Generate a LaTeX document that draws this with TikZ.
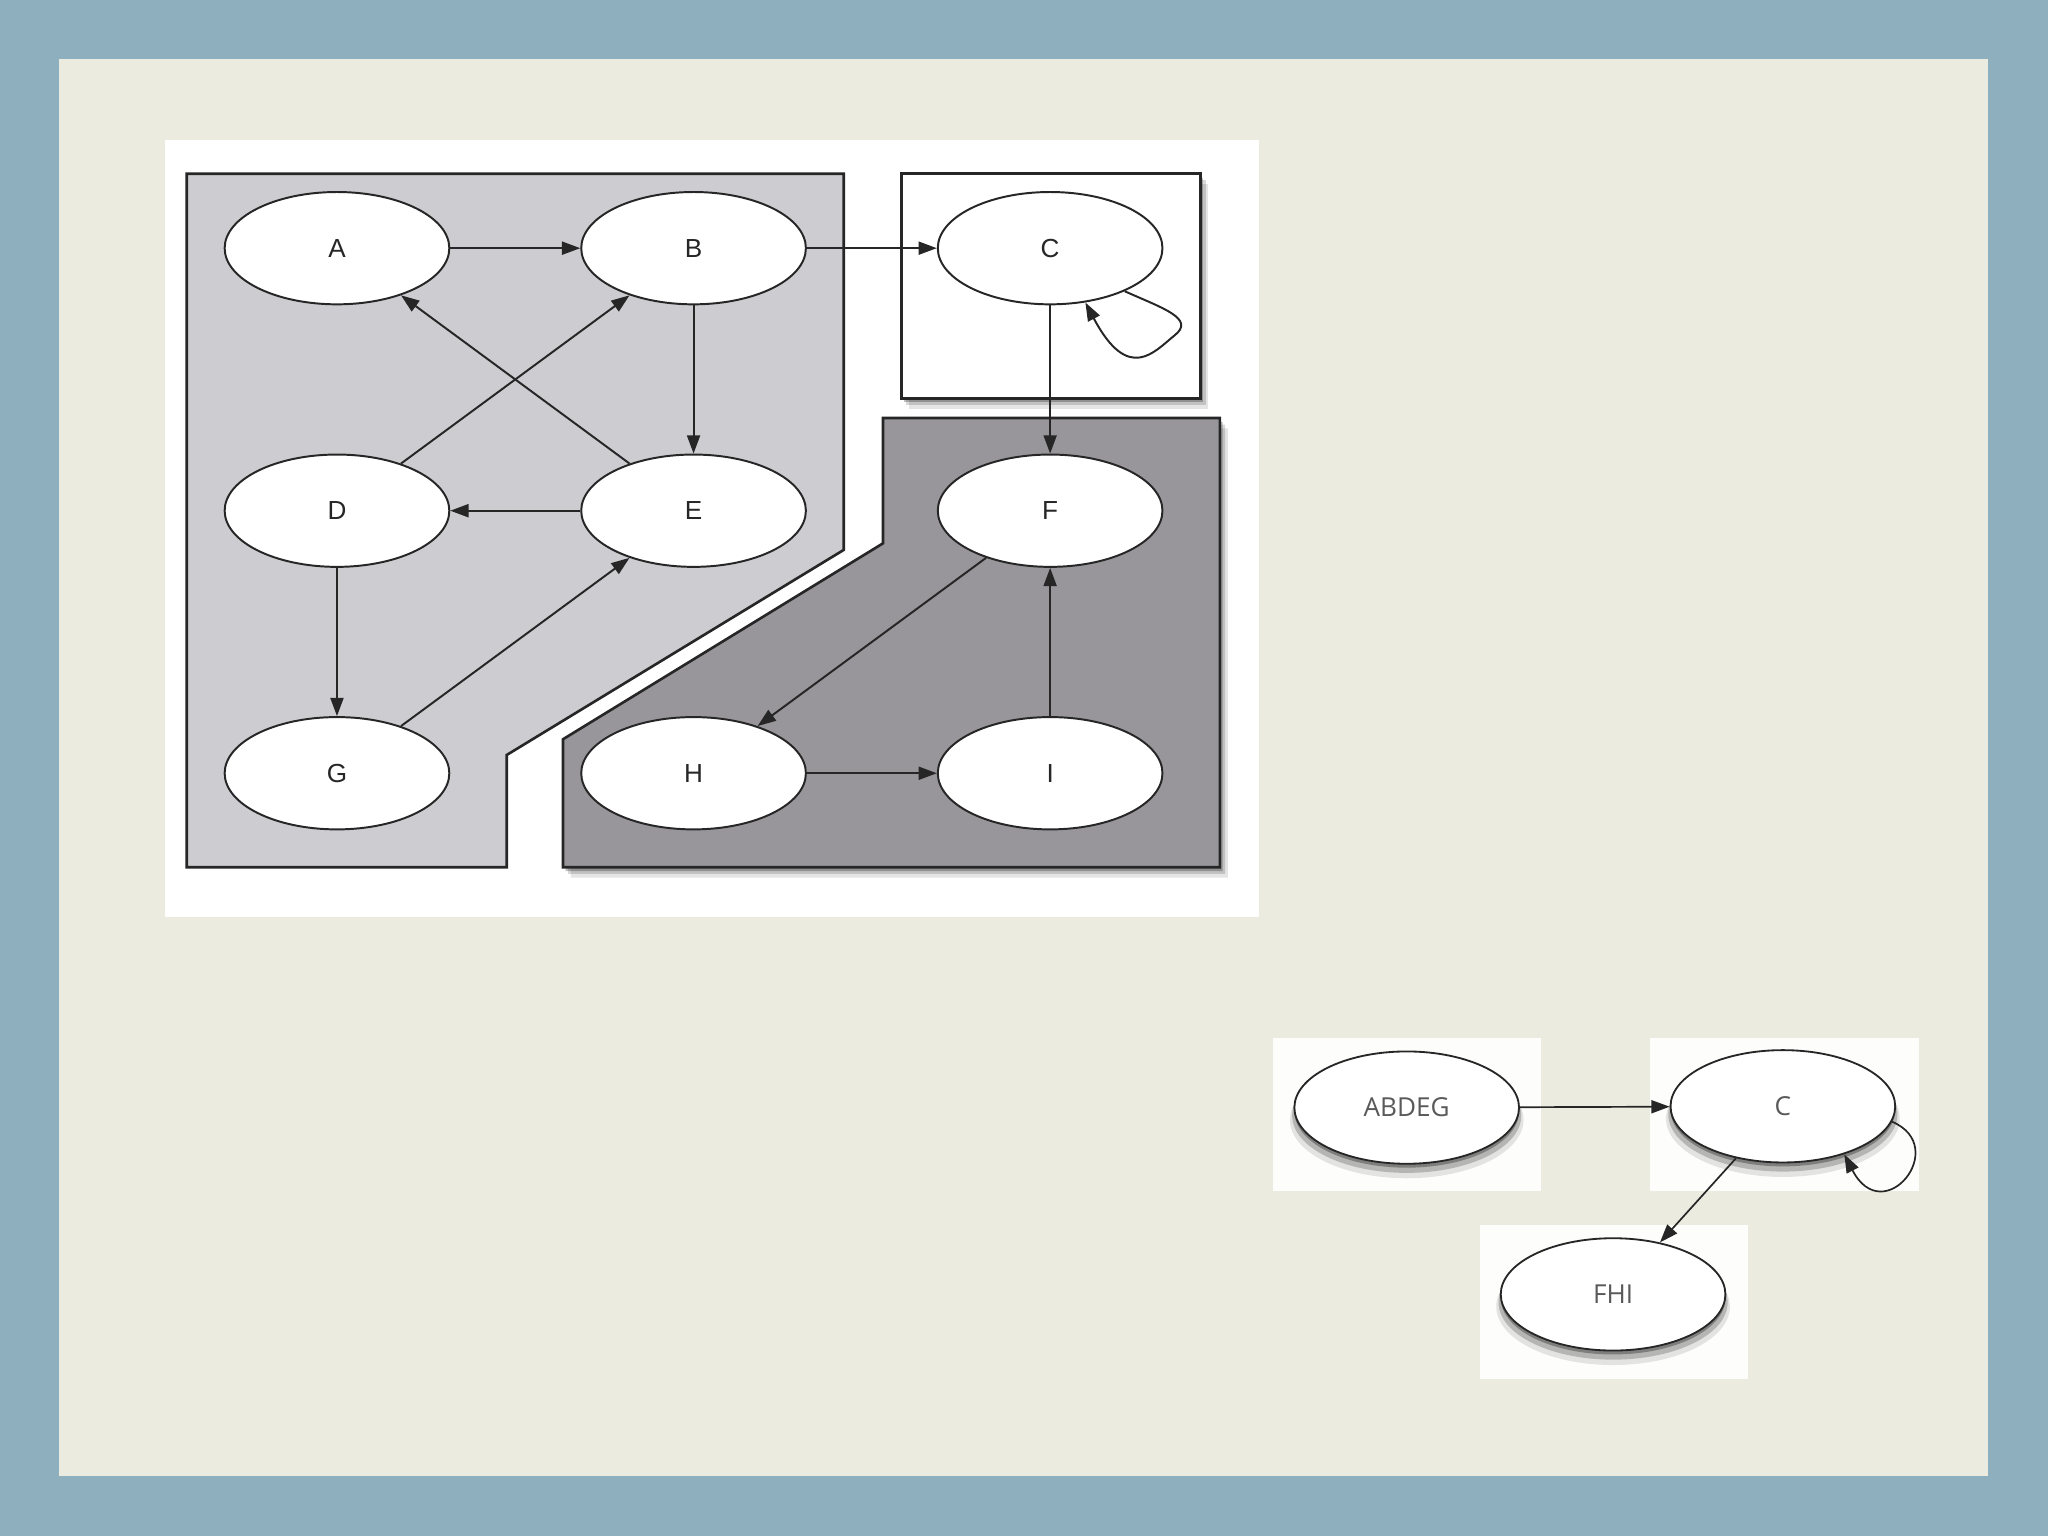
\documentclass[tikz,border=0pt]{standalone}
\usepackage{fontspec}
\setmainfont{Liberation Sans}
\newfontfamily\lowfont{Open Sans}
\usetikzlibrary{arrows.meta,shapes.geometric,shadows}
\definecolor{bluebg}{HTML}{8EAFBD}
\definecolor{beige}{HTML}{ECEBDF}
\definecolor{clLight}{HTML}{CDCCD0}
\definecolor{clDark}{HTML}{98969A}
\definecolor{ink}{HTML}{262626}
\begin{document}
\begin{tikzpicture}[x=1pt,y=-1pt,
  gnode/.style={ellipse, draw=ink, line width=1.5pt, fill=white, minimum width=172pt, minimum height=86pt, inner sep=0pt, font=\fontsize{20}{22}\selectfont, text=ink},
  snode/.style={gnode, line width=1.4pt, font=\lowfont\fontsize{20}{24}\selectfont, text=black!65,
     general shadow={fill=black, opacity=0.10, shadow yshift=-9pt, shadow scale=1.04},
     general shadow={fill=black, opacity=0.2, shadow yshift=-6pt, shadow scale=1.02},
     general shadow={fill=black, opacity=0.3, shadow yshift=-3pt}},
  arr/.style={-{Triangle[length=14pt,width=10pt]}, line width=1.5pt, draw=ink},
  cluster/.style={draw=ink, line width=2pt},
  cshadow/.style={general shadow={fill=black, opacity=0.10, shadow xshift=6pt, shadow yshift=-8pt},
                  general shadow={fill=black, opacity=0.15, shadow xshift=4pt, shadow yshift=-5pt},
                  general shadow={fill=black, opacity=0.25, shadow xshift=2pt, shadow yshift=-3pt}},
  wbox/.style={fill=white, fill opacity=0.92, draw=none}
]
\useasboundingbox (0,0) rectangle (1568,1176);
% background
\fill[bluebg] (0,0) rectangle (1568,1176);
\fill[beige] (45,45) rectangle (1522,1130);
% white panel
\fill[white] (126,107) rectangle (964,702);
% clusters
\filldraw[cluster, fill=clLight] (143,133) -- (646,133) -- (646,421) -- (388,578) -- (388,664) -- (143,664) -- cycle;
\filldraw[cluster, fill=white, cshadow] (690,133) rectangle (919,305);
\filldraw[cluster, fill=clDark, cshadow] (676,320) -- (934,320) -- (934,664) -- (431,664) -- (431,566) -- (676,416) -- cycle;
% nodes
\node[gnode] (A) at (258,190) {A};
\node[gnode] (B) at (531,190) {B};
\node[gnode] (C) at (804,190) {C};
\node[gnode] (D) at (258,391) {D};
\node[gnode] (E) at (531,391) {E};
\node[gnode] (F) at (804,391) {F};
\node[gnode] (G) at (258,592) {G};
\node[gnode] (H) at (531,592) {H};
\node[gnode] (I) at (804,592) {I};
% edges
\draw[arr] (A) -- (B);
\draw[arr] (B) -- (C);
\draw[arr] (B) -- (E);
\draw[arr] (E) -- (A);
\draw[arr] (D) -- (B);
\draw[arr] (E) -- (D);
\draw[arr] (D) -- (G);
\draw[arr] (G) -- (E);
\draw[arr] (C) -- (F);
\draw[arr] (F) -- (H);
\draw[arr] (H) -- (I);
\draw[arr] (I) -- (F);
\coordinate (Cloop) at (899,257);
\draw[arr] (C.-30) .. controls (890,236) and (916,244) .. (Cloop) .. controls (884,269) and (864,294) .. (C.-57);
% condensed graph
\fill[wbox] (975,795) rectangle (1180,912);
\fill[wbox] (1263,795) rectangle (1469,912);
\fill[wbox] (1133,938) rectangle (1338,1056);
\node[snode] (ABDEG) at (1077,848) {ABDEG};
\node[snode] (C2) at (1365,847) {C};
\node[snode] (FHI) at (1235,991) {FHI};
\draw[arr, line width=1.3pt] (ABDEG) -- (C2);
\draw[arr, line width=1.3pt] (C2) -- (FHI);
\draw[arr, line width=1.3pt] (C2.-8) .. controls (1494,878) and (1442,942) .. (C2.-38);
\end{tikzpicture}
\end{document}
